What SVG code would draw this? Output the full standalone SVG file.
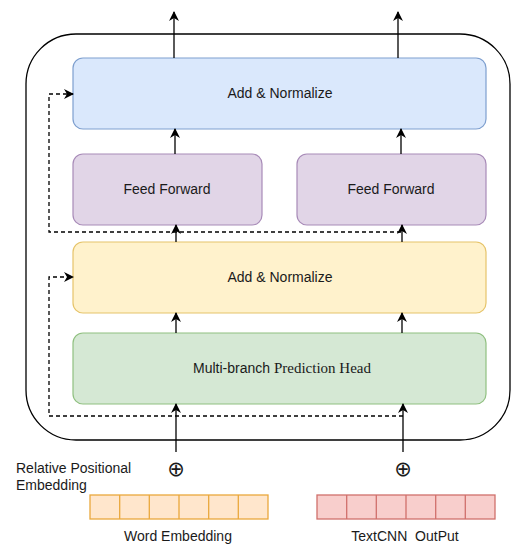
<svg xmlns="http://www.w3.org/2000/svg" width="529" height="550" viewBox="0 0 529 550">
<style>
text{font-family:"Liberation Sans",Arial,sans-serif;font-size:14px;fill:#1a1a1a}
.c{text-anchor:middle;dominant-baseline:central}
.ln{stroke:#000;stroke-width:1.3;fill:none}
.dash{stroke:#000;stroke-width:1.3;fill:none;stroke-dasharray:4 3}
.box{stroke-width:1.2}
.serif{font-family:"Liberation Serif","Times New Roman",serif}
.plus{font-family:"DejaVu Sans",sans-serif;font-size:21px}
</style>
<defs>
<marker id="ah" viewBox="0 0 10 10" refX="9" refY="5" markerWidth="10" markerHeight="10" markerUnits="userSpaceOnUse" orient="auto">
<path d="M0,0 L10,5 L0,10 L3,5 Z" fill="#000"/>
</marker>
</defs>
<rect id="outer" x="26" y="34" width="484" height="406" rx="50" ry="50" fill="none" stroke="#000" stroke-width="1.3"/>
<g id="addnorm-top"><rect class="box" x="73" y="58" width="413" height="71" rx="10" fill="#dae8fc" stroke="#7e9fcf"/><text class="c" x="280" y="93">Add &amp; Normalize</text></g>
<g id="ff-left"><rect class="box" x="73" y="154" width="189" height="71" rx="10" fill="#e1d5e7" stroke="#a88bb8"/><text class="c" x="167" y="189">Feed Forward</text></g>
<g id="ff-right"><rect class="box" x="297" y="154" width="189" height="71" rx="10" fill="#e1d5e7" stroke="#a88bb8"/><text class="c" x="391" y="189">Feed Forward</text></g>
<g id="addnorm-mid"><rect class="box" x="73" y="242" width="413" height="71" rx="10" fill="#fff2cc" stroke="#e6c46a"/><text class="c" x="280" y="277">Add &amp; Normalize</text></g>
<g id="mbph"><rect class="box" x="73" y="333" width="413" height="71" rx="10" fill="#d5e8d4" stroke="#90c080"/><text class="c" x="282" y="368">Multi-branch <tspan class="serif" font-size="15">Prediction Head</tspan></text></g>
<g id="word-emb">
<rect x="90" y="495" width="178" height="24" fill="#ffe6cc" stroke="#eaa83c" stroke-width="1.3"/>
<path d="M119.7,495V519M149.3,495V519M179,495V519M208.7,495V519M238.3,495V519" stroke="#eaa83c" stroke-width="1.3"/>
<text class="c" x="178" y="536">Word Embedding</text>
</g>
<g id="textcnn">
<rect x="317" y="495" width="178" height="24" fill="#f8cecc" stroke="#d0706c" stroke-width="1.3"/>
<path d="M346.7,495V519M376.3,495V519M406,495V519M435.7,495V519M465.3,495V519" stroke="#d0706c" stroke-width="1.3"/>
<text class="c" x="405" y="536" xml:space="preserve">TextCNN  OutPut</text>
</g>
<g id="rpe"><text x="16" y="473">Relative Positional</text><text x="16" y="490">Embedding</text></g>
<g id="plus"><text class="c plus" x="176" y="469">⊕</text><text class="c plus" x="403" y="469">⊕</text></g>
<g id="connectors">
<path class="ln" d="M174,58V12" marker-end="url(#ah)"/>
<path class="ln" d="M398,58V12" marker-end="url(#ah)"/>
<path class="ln" d="M175,154V129" marker-end="url(#ah)"/>
<path class="ln" d="M401,154V129" marker-end="url(#ah)"/>
<path class="ln" d="M176,242V225" marker-end="url(#ah)"/>
<path class="ln" d="M402,242V225" marker-end="url(#ah)"/>
<path class="ln" d="M176,333V313" marker-end="url(#ah)"/>
<path class="ln" d="M402,333V313" marker-end="url(#ah)"/>
<path class="ln" d="M176,452V404" marker-end="url(#ah)"/>
<path class="ln" d="M403,452V404" marker-end="url(#ah)"/>
<path class="dash" d="M401,232H49V94H73" marker-end="url(#ah)"/>
<path class="dash" d="M403,416H49V277H73" marker-end="url(#ah)"/>
</g>
</svg>
